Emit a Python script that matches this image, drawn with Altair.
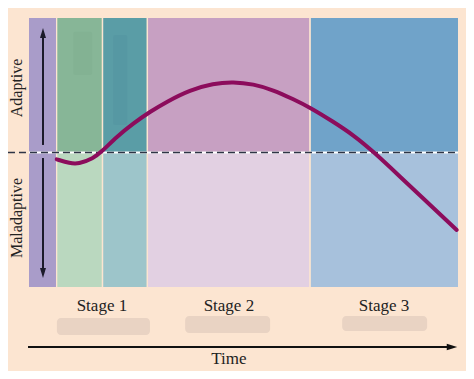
import altair as alt
import pandas as pd

# ---- data ----
col_names = ["pre", "s1a", "s1b", "s2", "s3"]
col_start = [0.0, 6.6, 17.3, 27.75, 65.7]
col_end = [6.29, 16.95, 27.4, 65.3, 100.0]
top_colors = ["#A99CC9", "#87B697", "#5A9DA6", "#C7A0C2", "#70A3C9"]
bot_colors = ["#A99CC9", "#BAD8BF", "#9DC5CA", "#E2D0E2", "#A7C1DC"]

curve_t = [6.46, 9.56, 11.49, 14.99, 16.95, 20.44, 24.31, 28.2, 32.1, 37.5, 42.96,
           47.62, 52.28, 56.95, 61.6, 65.5, 70.9, 75.6, 80.3, 86.5, 92.7, 99.7]
curve_v = [-0.051, -0.080, -0.086, -0.043, 0.006, 0.117, 0.217, 0.303, 0.378, 0.465, 0.514,
           0.526, 0.509, 0.465, 0.396, 0.335, 0.229, 0.130, 0.006, -0.180, -0.366, -0.576]

stage_labels = ["Stage 1", "Stage 2", "Stage 3"]
stage_t = [17.0, 46.6, 82.75]
stage_v = -1.141

ghost_box_t = [(6.5, 28.2), (36.4, 56.2), (73.0, 92.8)]
ghost_box_v = [(-1.23, -1.357), (-1.216, -1.342), (-1.216, -1.327)]

col_ghost_t = [(10.33, 14.7), (19.65, 22.9)]
col_ghost_v = [(0.898, 0.576), (0.874, 0.204)]
col_ghost_colors = ["#80AF90", "#5393A0"]

side_labels = ["Adaptive", "Maladaptive"]
side_v = [0.48, -0.487]
side_t = -2.75

arrow_t = 3.26
time_v = -1.446
time_label_v = -1.535

# ---- tables ----
rows = []
for n, s, e, tc, bc in zip(col_names, col_start, col_end, top_colors, bot_colors):
    rows.append({"t": s, "t2": e, "v": 0, "v2": 1, "c": tc})
    rows.append({"t": s, "t2": e, "v": -1, "v2": 0, "c": bc})
cols_df = pd.DataFrame(rows)

ghost_cols_df = pd.DataFrame([
    {"t": a, "t2": b, "v": c, "v2": d, "c": col}
    for (a, b), (c, d), col in zip(col_ghost_t, col_ghost_v, col_ghost_colors)
])
ghost_boxes_df = pd.DataFrame([
    {"t": a, "t2": b, "v": c, "v2": d} for (a, b), (c, d) in zip(ghost_box_t, ghost_box_v)
])
curve_df = pd.DataFrame({"t": curve_t, "v": curve_v})
stage_df = pd.DataFrame({"t": stage_t, "v": [stage_v] * 3, "label": stage_labels})
side_df = pd.DataFrame({"t": [side_t] * 2, "v": side_v, "label": side_labels})

xs = alt.Scale(domain=[0, 100], nice=False, zero=False)
ys = alt.Scale(domain=[-1, 1], nice=False, zero=False)


def X(f="t"):
    return alt.X(f"{f}:Q", scale=xs, axis=None)


def Y(f="v"):
    return alt.Y(f"{f}:Q", scale=ys, axis=None)


columns = alt.Chart(cols_df).mark_rect().encode(
    x=X(), x2="t2:Q", y=Y(), y2="v2:Q", color=alt.Color("c:N", scale=None)
)
ghost_cols = alt.Chart(ghost_cols_df).mark_rect(opacity=0.55, cornerRadius=2).encode(
    x=X(), x2="t2:Q", y=Y(), y2="v2:Q", color=alt.Color("c:N", scale=None)
)
ghost_boxes = alt.Chart(ghost_boxes_df).mark_rect(color="#E9D3C3", cornerRadius=4).encode(
    x=X(), x2="t2:Q", y=Y(), y2="v2:Q"
)

white_line = alt.Chart(pd.DataFrame({"t": [0], "t2": [100], "v": [0]})).mark_rule(
    color="white", strokeWidth=2
).encode(x=X(), x2="t2:Q", y=Y())
dash_line = alt.Chart(pd.DataFrame({"t": [-4.9], "t2": [100], "v": [0]})).mark_rule(
    color="#2E3546", strokeWidth=1.6, strokeDash=[7, 4]
).encode(x=X(), x2="t2:Q", y=Y())

curve = alt.Chart(curve_df).mark_line(
    color="#8C0C5C", strokeWidth=4, interpolate="basis", strokeCap="round"
).encode(x=X(), y=Y())

vert_df = pd.DataFrame({"t": [arrow_t, arrow_t], "v": [0.056, -0.041], "v2": [0.9, -0.9]})
vert = alt.Chart(vert_df).mark_rule(color="#1C1A2A", strokeWidth=2).encode(
    x=X(), y=Y(), y2="v2:Q"
)
head_up = alt.Chart(pd.DataFrame({"t": [arrow_t], "v": [0.888]})).mark_point(
    shape="M0,-1L0.6,1L-0.6,1Z", filled=True, size=100, color="#1C1A2A", opacity=1
).encode(x=X(), y=Y())
head_dn = alt.Chart(pd.DataFrame({"t": [arrow_t], "v": [-0.896]})).mark_point(
    shape="M0,1L0.6,-1L-0.6,-1Z", filled=True, size=100, color="#1C1A2A", opacity=1
).encode(x=X(), y=Y())

time_rule = alt.Chart(pd.DataFrame({"t": [-0.23], "t2": [98.0], "v": [time_v]})).mark_rule(
    color="#111111", strokeWidth=2
).encode(x=X(), x2="t2:Q", y=Y())
time_head = alt.Chart(pd.DataFrame({"t": [98.6], "v": [time_v]})).mark_point(
    shape="M1,0L-1,0.6L-1,-0.6Z", filled=True, size=110, color="#111111", opacity=1
).encode(x=X(), y=Y())

stage_text = alt.Chart(stage_df).mark_text(
    font="Liberation Serif", fontSize=17, color="#222222", baseline="middle", align="center"
).encode(x=X(), y=Y(), text="label:N")
side_text = alt.Chart(side_df).mark_text(
    font="Liberation Serif", fontSize=16, color="#222222", baseline="middle", align="center",
    angle=270
).encode(x=X(), y=Y(), text="label:N")
time_text = alt.Chart(pd.DataFrame({"t": [46.6], "v": [time_label_v], "label": ["Time"]})).mark_text(
    font="Liberation Serif", fontSize=17, color="#222222", baseline="middle", align="center"
).encode(x=X(), y=Y(), text="label:N")

chart = alt.layer(
    columns, ghost_cols, white_line, dash_line, curve, vert, head_up, head_dn,
    ghost_boxes, time_rule, time_head, stage_text, side_text, time_text
).properties(
    width=429, height=269,
    padding={"left": 21, "top": 10, "right": 8, "bottom": 84},
    autosize=alt.AutoSizeParams(type="none"),
    background="#FCE5D1",
).configure_view(strokeWidth=0)

chart.save("out.html", embed_options={"renderer": "svg", "actions": False})
